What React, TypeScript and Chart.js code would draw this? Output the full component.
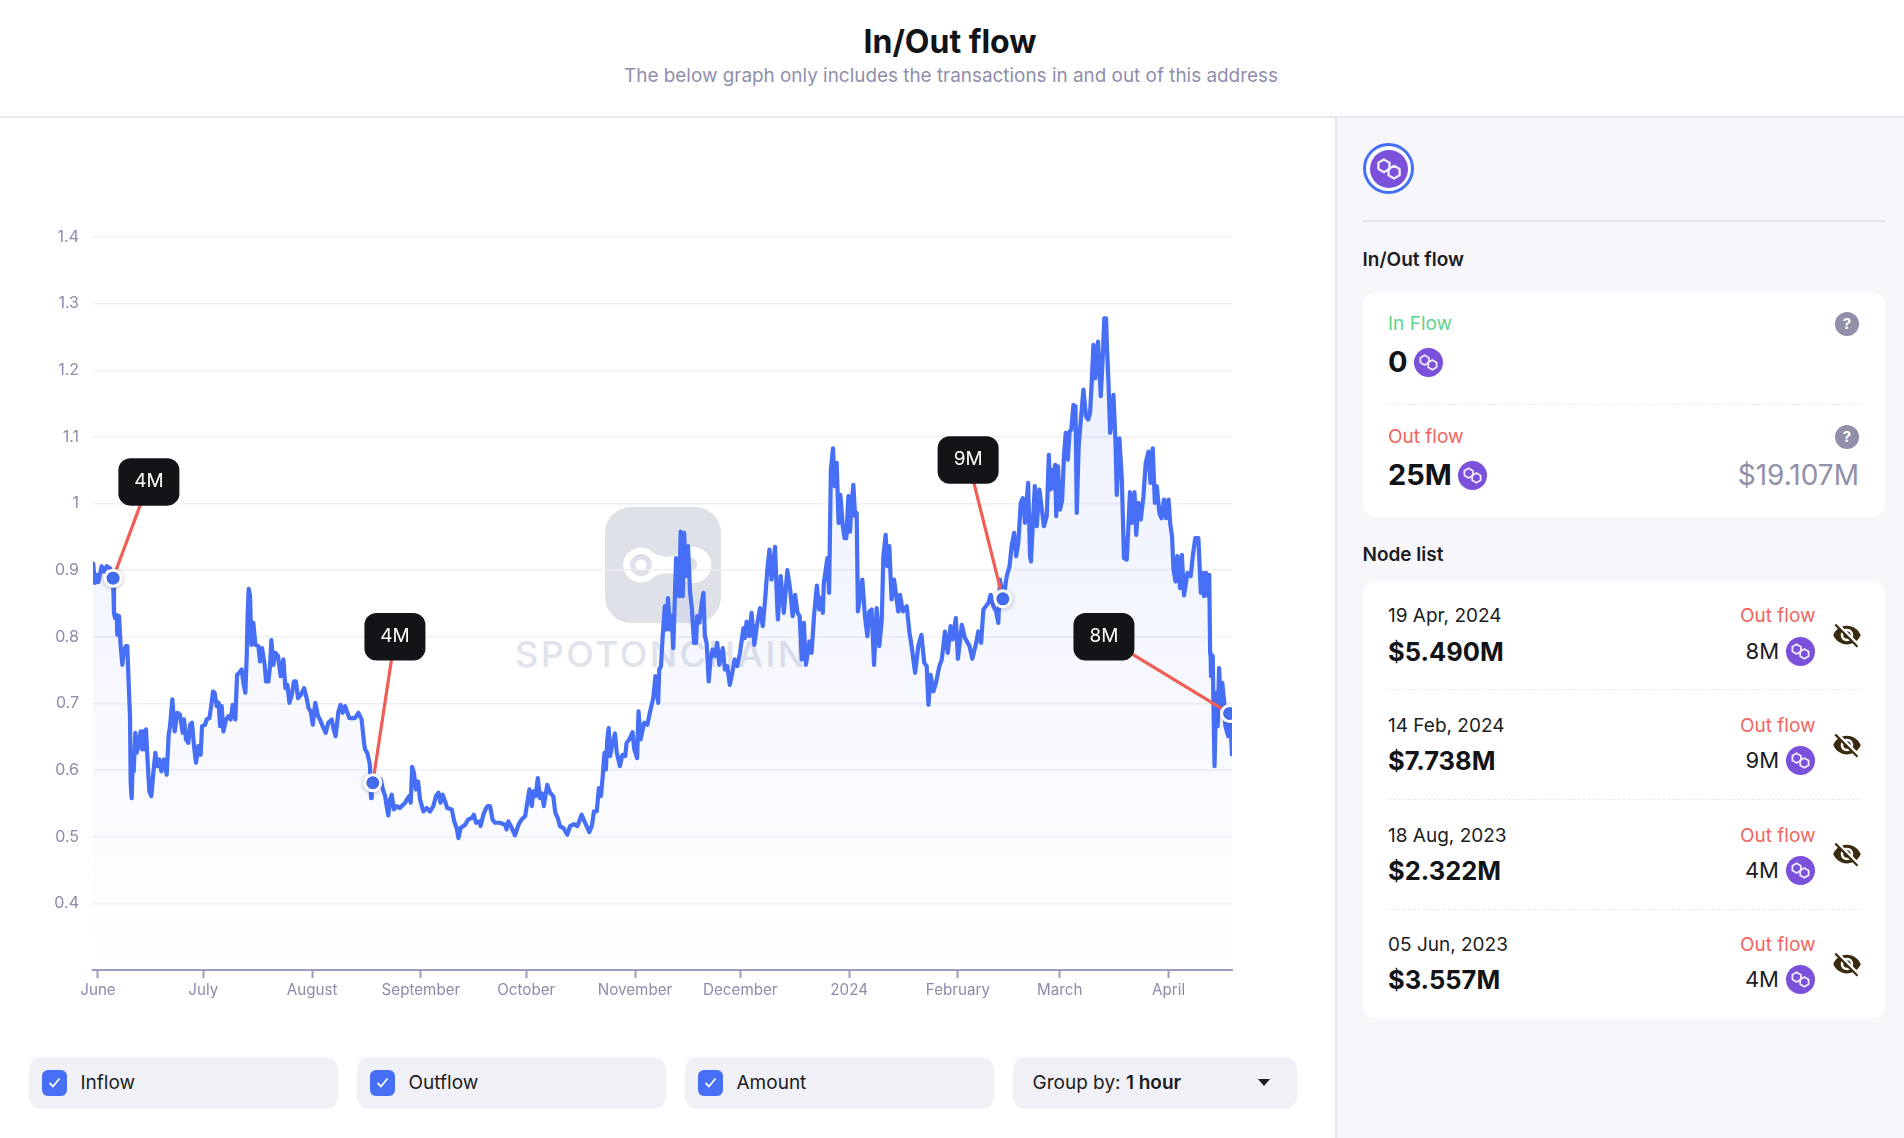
import React, { useEffect, useRef } from "react";
import { Chart, registerables } from "chart.js";

Chart.register(...registerables);

// x = days since 1 June 2023, y = price
const june: number[][] = [[-1.42,.91],[-1.33,.908],[-.86,.881],[-.38,.893],[.1,.882],[1.05,.906],[1.71,.898],[2.47,.906],[3.42,.903],[4.3,.888],[4.56,.836],[4.85,.828],[5.32,.833],[5.51,.803],[5.99,.831],[6.46,.786],[6.94,.758],[7.41,.781],[7.98,.786],[8.36,.786],[8.74,.731],[9.12,.681],[9.31,.581],[9.6,.558],[9.88,.611],[10.17,.598],[10.64,.656],[11.02,.626],[11.59,.641],[12.16,.658],[12.54,.631],[12.92,.658],[13.3,.631],[13.68,.661],[14.06,.621],[14.63,.568],[15.2,.561],[15.77,.596],[16.34,.626],[16.91,.606],[17.48,.616],[18.05,.598],[18.81,.616],[19.57,.593],[20.14,.653],[20.52,.666],[21.19,.706],[21.85,.658],[22.61,.686],[23.37,.683],[24.13,.656],[24.51,.676],[25.08,.646],[25.75,.641],[26.22,.668],[26.79,.671],[27.36,.636],[27.93,.611],[28.6,.636],[29.26,.623]];
const july: number[][] = [[29.64,.666],[30.5,.668],[30.97,.676],[31.73,.678],[32.11,.691],[32.78,.718],[33.25,.716],[33.82,.696],[34.39,.701],[34.77,.666],[35.24,.696],[35.72,.658],[36.48,.676],[37.15,.681],[37.81,.676],[38.38,.698],[39.14,.676],[39.62,.743],[40.28,.746],[40.95,.751],[41.42,.731],[41.99,.716],[42.37,.771],[42.65,.836],[42.94,.872],[43.32,.861],[43.7,.788],[44.27,.821],[44.84,.788],[45.7,.786],[46.17,.763],[46.74,.783],[47.5,.758],[47.88,.733],[48.55,.733],[49.02,.756],[49.4,.795],[49.97,.758],[50.54,.776],[51.3,.771],[52.06,.741],[52.82,.766],[53.39,.723],[53.96,.728],[54.53,.701],[55.2,.713],[55.84,.733],[56.4,.733],[57,.708],[57.8,.713],[58.7,.723],[59.45,.708],[60,.693]];
const august: number[][] = [[60.6,.688],[61.2,.668],[61.9,.701],[62.7,.681],[63.25,.676],[64,.666],[64.9,.656],[65.6,.671],[66.6,.676],[67.05,.663],[67.7,.651],[68.5,.688],[69.1,.698],[69.7,.686],[70.4,.696],[71.6,.678],[73.2,.678],[74.2,.686],[75.1,.676],[75.8,.641],[76.1,.631],[76.7,.626],[77.3,.613],[77.5,.605],[77.8,.558],[78,.591],[78.3,.581],[79.6,.583],[80.5,.586],[81.1,.573],[81.8,.561],[82.25,.546],[82.7,.532],[83.2,.556],[83.7,.563],[84.3,.541],[85.1,.546],[86,.543],[87.5,.551],[88,.556],[88.7,.561],[89.1,.551],[89.5,.605],[90,.596]];
const september: number[][] = [[90.6,.571],[91.2,.583],[91.75,.556],[92.7,.538],[93.65,.543],[94.6,.538],[95.55,.546],[96.3,.561],[97,.566],[97.6,.551],[98.2,.563],[98.9,.553],[99.5,.543],[100.8,.541],[101.5,.523],[102.2,.513],[102.7,.498],[103.3,.513],[104.6,.518],[105.5,.526],[106.5,.528],[107.1,.533],[107.7,.521],[108.7,.523],[109,.516],[109.8,.533],[110.4,.541],[111,.546],[111.7,.546],[112.4,.526],[113.1,.521],[114.5,.521],[116,.518],[116.4,.511],[116.9,.523],[117.9,.513],[118.8,.502],[119.8,.518],[120.7,.526]];
const october: number[][] = [[121.7,.531],[122.3,.551],[122.9,.571],[123.6,.546],[124,.568],[124.7,.561],[125.3,.588],[125.9,.558],[126.5,.565],[127,.546],[128,.578],[128.8,.566],[129.7,.561],[130.3,.536],[131,.528],[131.6,.516],[132.6,.513],[133.7,.503],[134.5,.516],[135.6,.519],[136.6,.516],[137.8,.533],[138.6,.523],[140,.507],[140.7,.516],[141.3,.538],[142.1,.538],[142.7,.573],[143.3,.561],[143.8,.591],[144.3,.626],[144.7,.601],[145.1,.646],[145.5,.663],[145.9,.621],[146.6,.641],[147.3,.655],[147.8,.626],[148.7,.606],[149.4,.623],[150.2,.621],[150.6,.641],[151.4,.646],[152.3,.657]];
const november: number[][] = [[152.8,.631],[153.6,.618],[154,.688],[154.6,.646],[155.6,.671],[156.5,.668],[157.3,.688],[158.2,.708],[158.8,.741],[159.6,.701],[159.9,.751],[160.4,.756],[160.9,.803],[161.5,.846],[162,.811],[162.4,.858],[163,.811],[163.4,.831],[163.9,.783],[164.7,.918],[165,.891],[165.6,.861],[166,.958],[166.6,.861],[167,.956],[167.5,.891],[168.1,.936],[168.7,.866],[169.2,.843],[169.8,.791],[170.4,.791],[170.7,.831],[171.3,.821],[172,.851],[172.5,.866],[172.9,.801],[173.4,.791],[174,.733],[174.5,.766],[175.1,.781],[175.8,.771],[176.4,.791],[177,.758],[178,.783],[178.6,.751],[179.3,.756],[180,.728],[180.7,.746],[181.4,.766],[182.1,.756]];
const december: number[][] = [[182.9,.776],[183.9,.813],[184.3,.798],[184.8,.823],[185.6,.801],[186.2,.836],[187,.788],[187.7,.816],[188.6,.843],[189.4,.816],[190.1,.858],[190.7,.901],[191.3,.931],[191.9,.886],[192.9,.935],[193.4,.861],[193.7,.826],[194.5,.891],[195.4,.836],[196.4,.9],[197.2,.871],[197.9,.831],[198.6,.863],[199.3,.836],[199.9,.831],[200.5,.766],[201.1,.821],[201.7,.758],[202.7,.793],[203.3,.776],[204,.831],[204.8,.877],[205.5,.841],[206,.858],[206.5,.836],[206.8,.881],[207.8,.918],[208.3,.866],[208.8,1.051],[209.4,1.083],[209.9,1.026],[210.45,1.061],[211,.971],[211.5,1.013],[212.2,.966],[212.7,.948],[213.2,.948],[213.8,1.011],[214.25,.958]];
const january: number[][] = [[214.7,1.0],[215.2,1.028],[215.7,.981],[216.15,.986],[216.5,.838],[217.1,.861],[217.75,.886],[218.5,.831],[219.2,.801],[219.75,.838],[220.4,.841],[221.1,.758],[221.85,.843],[222.6,.786],[223.3,.826],[223.75,.921],[224.4,.953],[224.9,.906],[225.45,.936],[226.1,.856],[226.8,.886],[228,.838],[228.5,.863],[229.3,.838],[230.4,.846],[231.2,.806],[231.8,.786],[232.8,.746],[233.7,.786],[234.6,.803],[235.4,.761],[236.1,.756],[236.6,.698],[237.2,.743],[238,.718],[238.75,.731],[239.7,.756],[240.4,.766],[241.3,.808],[242.1,.776],[242.9,.816],[243.5,.796],[244.4,.828]];
const february: number[][] = [[245,.767],[246.1,.818],[247,.798],[248.3,.786],[249.1,.767],[250.2,.791],[250.8,.808],[251.6,.791],[252.25,.841],[253.7,.851],[254.3,.863],[255.1,.846],[255.9,.838],[256.5,.821],[257,.886],[257.8,.857],[258.4,.873],[258.9,.891],[259.7,.906],[260.3,.936],[261,.956],[261.6,.921],[262.2,.941],[262.9,1.001],[263.5,1.008],[264.1,.971],[265,1.031],[265.55,.921],[265.8,.913],[266.3,.966],[266.9,1.026],[267.45,.966],[268.2,1.021],[268.9,.991],[269.5,.966],[270.3,.981],[270.9,1.073],[271.25,1.021],[271.7,1.051],[272.2,1.023],[272.7,1.058],[273,.981],[273.5,1.056]];
const march: number[][] = [[274.1,.991],[274.7,1.006],[275.2,1.071],[275.7,1.106],[276.3,1.066],[276.8,1.108],[277.3,1.111],[277.9,1.148],[278.5,1.146],[278.85,.986],[279.4,1.086],[280.1,1.131],[280.75,1.171],[281.5,1.131],[282.1,1.126],[282.65,1.136],[283.2,1.191],[283.6,1.238],[284.1,1.188],[284.9,1.243],[285.7,1.161],[286.3,1.226],[286.7,1.278],[287.2,1.278],[287.5,1.23],[287.9,1.181],[288.35,1.106],[288.8,1.125],[289.3,1.163],[289.9,1.091],[290.25,1.013],[291,1.098],[291.7,1.036],[292.3,.918],[293.1,.916],[293.7,.981],[294,1.017],[294.5,.971],[295.3,1.017],[295.8,.953],[296.4,1.001],[297.1,.976],[297.85,1.011],[298.5,1.061],[299.3,1.078],[299.85,1.031],[300.5,1.083],[301.1,1.001],[301.65,1.026],[302.4,.986],[303,.978],[303.7,1.006],[304.3,.978]];
const april: number[][] = [[305,1.006],[305.45,.971],[306,.951],[306.4,.901],[307,.883],[307.5,.921],[308.3,.873],[308.8,.923],[309.4,.862],[310.4,.896],[311.3,.891],[311.9,.921],[312.6,.948],[313.5,.948],[314.2,.866],[314.8,.896],[315.1,.861],[315.7,.896],[316.3,.861],[316.6,.893],[316.85,.776],[317,.771],[317.1,.741],[317.6,.771],[317.8,.696],[318.1,.606],[318.6,.716],[319,.666],[319.4,.753],[319.9,.696],[320.3,.731],[320.8,.706],[321.2,.666],[322,.651],[322.4,.685],[322.7,.666],[323.08,.621]];
const pricePoints = [...june, ...july, ...august, ...september, ...october, ...november, ...december, ...january, ...february, ...march, ...april];

const monthDays = [0, 30, 61, 92, 122, 153, 183, 214, 245, 274, 305];
const monthLabels = ["June", "July", "August", "September", "October", "November", "December", "2024", "February", "March", "April"];
const nodeDays = [4.3, 78.3, 257.8, 322.4];
const nodePrices = [0.888, 0.581, 0.857, 0.685];
const nodeAmounts = ["4M", "4M", "9M", "8M"];
const calloutDays = [14.5, 84.6, 247.9, 286.6];
const calloutPrices = [1.0325, 0.8, 1.0655, 0.8];
const nodeRows = [
  ["19 Apr, 2024", "$5.490M", "8M"],
  ["14 Feb, 2024", "$7.738M", "9M"],
  ["18 Aug, 2023", "$2.322M", "4M"],
  ["05 Jun, 2023", "$3.557M", "4M"],
];
const toggleLabels = ["Inflow", "Outflow", "Amount"];

const FONT = "Inter, 'Noto Sans', sans-serif";
const BLUE = "#466ff5";

const calloutPlugin = {
  id: "callouts",
  beforeDatasetDraw(chart: any, args: any) {
    if (args.index === 0) {
      chart.ctx.save();
      chart.ctx.shadowColor = "rgba(40,50,90,0.25)";
      chart.ctx.shadowBlur = 5;
      chart.ctx.shadowOffsetY = 1;
    }
  },
  afterDatasetDraw(chart: any, args: any) {
    if (args.index === 0) chart.ctx.restore();
  },
  afterDatasetsDraw(chart: any) {
    const { ctx, scales } = chart;
    const w = 61, h = 47.5;
    ctx.save();
    nodeAmounts.forEach((t, i) => {
      const cx = scales.x.getPixelForValue(calloutDays[i]);
      const cy = scales.y.getPixelForValue(calloutPrices[i]);
      ctx.beginPath();
      ctx.roundRect(cx - w / 2, cy - h / 2, w, h, 12);
      ctx.fillStyle = "#131417";
      ctx.fill();
      ctx.fillStyle = "#ffffff";
      ctx.font = `400 19px ${FONT}`;
      ctx.textAlign = "center";
      ctx.textBaseline = "middle";
      ctx.fillText(t, cx, cy - 0.5);
    });
    ctx.restore();
  },
};

function PriceChart() {
  const ref = useRef<HTMLCanvasElement>(null);
  useEffect(() => {
    const leaders = nodeDays.map((d, i) => ({
      type: "line" as const,
      data: [{ x: d, y: nodePrices[i] }, { x: calloutDays[i], y: calloutPrices[i] }],
      borderColor: "#ef5f57",
      borderWidth: 3.2,
      pointRadius: 0,
      order: 1,
      clip: false as any,
    }));
    const chart = new Chart(ref.current as HTMLCanvasElement, {
      type: "line",
      data: {
        datasets: [
          {
            data: nodeDays.map((d, i) => ({ x: d, y: nodePrices[i] })),
            showLine: false,
            pointRadius: 8,
            pointBorderWidth: 3,
            pointBackgroundColor: BLUE,
            pointBorderColor: "#ffffff",
            order: 0,
            clip: { left: false, top: false, bottom: false, right: 0 } as any,
          },
          ...leaders,
          {
            data: pricePoints.map(([x, y]) => ({ x, y })),
            borderColor: BLUE,
            borderWidth: 4.2,
            borderJoinStyle: "round",
            pointRadius: 0,
            tension: 0,
            fill: "start",
            order: 2,
            backgroundColor: (c: any) => {
              const a = c.chart.chartArea;
              if (!a) return "rgba(70,110,245,0.06)";
              const g = c.chart.ctx.createLinearGradient(0, a.top + 60, 0, a.bottom);
              g.addColorStop(0, "rgba(70,105,245,0.105)");
              g.addColorStop(1, "rgba(70,105,245,0)");
              return g;
            },
          },
        ],
      },
      options: {
        animation: false,
        responsive: false,
        maintainAspectRatio: false,
        devicePixelRatio: 1,
        layout: { padding: { left: 0, right: 68, top: 57, bottom: 0 } },
        plugins: { legend: { display: false }, tooltip: { enabled: false } },
        scales: {
          x: {
            type: "linear",
            min: -1.42,
            max: 323.08,
            afterFit: (s: any) => { s.height = 70; },
            afterBuildTicks: (s: any) => { s.ticks = monthDays.map((value) => ({ value })); },
            border: { color: "#9c9cbc", width: 2 },
            grid: { drawOnChartArea: false, drawTicks: true, tickLength: 8, tickColor: "#9c9cbc", tickWidth: 2 },
            ticks: {
              autoSkip: false,
              maxRotation: 0,
              padding: 3,
              color: "#8c8bab",
              font: { family: FONT, size: 15.2 },
              callback: (v: any) => monthLabels[monthDays.indexOf(Number(v))] ?? "",
            },
          },
          y: {
            type: "linear",
            min: 0.3,
            max: 1.4,
            afterFit: (s: any) => { s.width = 93; },
            border: { display: false },
            grid: { color: (c: any) => (c.index === 0 ? "rgba(0,0,0,0)" : "#f0f0f4"), lineWidth: 1.5, drawTicks: false },
            ticks: {
              stepSize: 0.1,
              padding: 14,
              color: "#8c8bab",
              font: { family: FONT, size: 16 },
              callback: (v: any) => (Math.abs(v - 0.3) < 1e-6 ? "" : String(Number(Number(v).toFixed(1)))),
            },
          },
        },
      },
      plugins: [calloutPlugin],
    } as any);
    return () => chart.destroy();
  }, []);
  return <canvas ref={ref} width={1300} height={860} style={{ position: "absolute", left: 0, top: 180, width: 1300, height: 860 }} />;
}

const abs = (s: React.CSSProperties): React.CSSProperties => ({ position: "absolute", whiteSpace: "nowrap", ...s });

function PolyIcon({ cx, cy, r }: { cx: number; cy: number; r: number }) {
  const hex = "M-7,-4 L0,-8 L7,-4 L7,4 L0,8 L-7,4 Z";
  return (
    <svg width={r * 2} height={r * 2} viewBox="-30 -30 60 60" style={{ position: "absolute", left: cx - r, top: cy - r }}>
      <circle r="30" fill="#7b50da" />
      <g fill="none" stroke="#ffffff" strokeWidth="3" strokeLinejoin="round" opacity="0.9">
        <path d={hex} transform="translate(-8,-5) scale(1.25)" />
        <path d={hex} transform="translate(8,5) scale(1.25)" />
      </g>
    </svg>
  );
}

function Help({ cx, cy }: { cx: number; cy: number }) {
  return (
    <div style={abs({ left: cx - 12, top: cy - 12, width: 24, height: 24, borderRadius: 12, background: "#9190aa", color: "#fff", font: `700 15px/24px ${FONT}`, textAlign: "center" })}>?</div>
  );
}

function EyeOff({ cx, cy }: { cx: number; cy: number }) {
  return (
    <svg width="30" height="30" viewBox="0 0 24 24" style={{ position: "absolute", left: cx - 15, top: cy - 15 }}>
      <path fill="#3a2a10" d="M12 7c2.76 0 5 2.24 5 5 0 .65-.13 1.26-.36 1.83l2.92 2.92c1.51-1.26 2.7-2.89 3.43-4.75-1.73-4.39-6-7.5-11-7.5-1.4 0-2.74.25-3.98.7l2.16 2.16C10.74 7.13 11.35 7 12 7zM2 4.27l2.28 2.28.46.46C3.08 8.3 1.78 10.02 1 12c1.73 4.39 6 7.5 11 7.5 1.55 0 3.03-.3 4.38-.84l.42.42L19.73 22 21 20.73 3.27 3 2 4.27zM7.53 9.8l1.55 1.55c-.05.21-.08.43-.08.65 0 1.66 1.34 3 3 3 .22 0 .44-.03.65-.08l1.55 1.55c-.67.33-1.41.53-2.2.53-2.76 0-5-2.24-5-5 0-.79.2-1.53.53-2.2zm4.31-.78l3.15 3.15.02-.16c0-1.66-1.34-3-3-3l-.17.01z" />
    </svg>
  );
}

function Text({ x, y, right, size, weight = 400, color = "#1c1c22", children }: any) {
  const base: React.CSSProperties = { top: y - 19, height: 40, lineHeight: "40px", fontFamily: FONT, fontSize: size, fontWeight: weight, color };
  return <div style={abs(right !== undefined ? { ...base, right: 1904 - right } : { ...base, left: x })}>{children}</div>;
}

const Dash = ({ y }: { y: number }) => (
  <div style={abs({ left: 1388, width: 472, top: y, borderTop: "1.5px dashed #e9e9ef" })} />
);

export default function App() {
  const rowDate = [615, 725, 835, 944];
  const rowVal = [651, 760, 870, 979];
  const rowEye = [635, 744.5, 854, 964];
  const rowDash = [689, 798.5, 908.5];
  const toggleX = [[29, 309], [357, 309], [685, 309]];
  return (
    <div style={abs({ left: 0, top: 0, width: 1904, height: 1138, overflow: "hidden", background: "#fff", fontFamily: FONT })}>
      <div style={abs({ left: -2, width: 1904, top: 22, textAlign: "center", font: `700 32px/40px ${FONT}`, color: "#131417" })}>In/Out flow</div>
      <div style={abs({ left: -1, width: 1904, top: 60, textAlign: "center", font: `400 18.9px/32px ${FONT}`, color: "#8f8eac" })}>The below graph only includes the transactions in and out of this address</div>
      <div style={abs({ left: 0, width: 1904, top: 116, height: 2, background: "#e7e7ec" })} />

      {/* watermark behind the plot */}
      <svg width="116" height="116" viewBox="0 0 116 116" style={{ position: "absolute", left: 605, top: 507 }}>
        <rect width="116" height="116" rx="26" fill="#dfe1e8" />
        <path d="M18 58a18 18 0 0 1 31-12c8 5 18 5 26 0a18 18 0 1 1 0 24c-8-5-18-5-26 0a18 18 0 0 1-31-12z" fill="#ffffff" />
        <circle cx="36" cy="58" r="11" fill="#dfe1e8" />
        <circle cx="36" cy="58" r="5.5" fill="#ffffff" />
        <circle cx="84" cy="58" r="8" fill="#dfe1e8" />
      </svg>
      <div style={abs({ left: 515, top: 632, height: 44, font: `500 36px/44px ${FONT}`, letterSpacing: "2.4px", color: "#e1e3ea" })}>SPOTONCHAIN</div>

      <PriceChart />

      {toggleX.map(([x, w], i) => (
        <React.Fragment key={i}>
          <div style={abs({ left: x, top: 1057, width: w, height: 51.5, borderRadius: 12, background: "#f0f1f7" })} />
          <div style={abs({ left: x + 13, top: 1070, width: 25, height: 25.5, borderRadius: 6, background: BLUE })}>
            <svg width="25" height="25" viewBox="0 0 25 25"><path d="M7.5 13l3.5 3.5 6.5-8" fill="none" stroke="#fff" strokeWidth="1.8" /></svg>
          </div>
          <Text x={x + 51.5} y={1082} size={19}>{toggleLabels[i]}</Text>
        </React.Fragment>
      ))}
      <div style={abs({ left: 1012.6, top: 1057, width: 284, height: 51.5, borderRadius: 12, background: "#f0f1f7" })} />
      <Text x={1032.5} y={1082} size={19}>Group by: <b style={{ fontWeight: 600 }}>1 hour</b></Text>
      <svg width="12" height="8" style={{ position: "absolute", left: 1258, top: 1079 }}><path d="M0 0h12L6 7z" fill="#1c1c22" /></svg>

      {/* side panel */}
      <div style={abs({ left: 1335, top: 118, width: 569, height: 1020, background: "#f6f6fb", borderLeft: "2px solid #e6e6ec", boxSizing: "border-box" })} />
      <div style={abs({ left: 1363, top: 143, width: 51, height: 51, borderRadius: 26, border: "3px solid #4570f5", boxSizing: "border-box", background: "#fff" })} />
      <PolyIcon cx={1388.5} cy={168.5} r={19} />
      <div style={abs({ left: 1363, width: 522, top: 220, height: 2, background: "#e3e3e9" })} />
      <Text x={1362.5} y={259} size={19} weight={600}>In/Out flow</Text>

      <div style={abs({ left: 1363, top: 292, width: 522, height: 225, borderRadius: 14, background: "#fff" })} />
      <Text x={1388} y={323} size={19} color="#5fd38d">In Flow</Text>
      <Help cx={1847} cy={324} />
      <Text x={1388} y={361} size={29} weight={700} color="#131417">0</Text>
      <PolyIcon cx={1428} cy={362} r={14.5} />
      <Dash y={403.5} />
      <Text x={1388} y={436} size={19} color="#f1655f">Out flow</Text>
      <Help cx={1847} cy={437} />
      <Text x={1388} y={474} size={29} weight={700} color="#131417">25M</Text>
      <PolyIcon cx={1472} cy={475} r={14.5} />
      <Text right={1859} y={474} size={28} color="#9190aa">$19.107M</Text>

      <Text x={1362.5} y={554} size={19} weight={600}>Node list</Text>
      <div style={abs({ left: 1363, top: 581, width: 522, height: 438, borderRadius: 14, background: "#fff" })} />
      {nodeRows.map(([date, usd, amt], i) => (
        <React.Fragment key={i}>
          <Text x={1388} y={rowDate[i]} size={19}>{date}</Text>
          <Text x={1388} y={rowVal[i]} size={25.5} weight={700} color="#131417">{usd}</Text>
          <Text right={1815.5} y={rowDate[i]} size={19} color="#f1655f">Out flow</Text>
          <Text right={1779} y={rowVal[i] - 1} size={22}>{amt}</Text>
          <PolyIcon cx={1800.5} cy={rowVal[i]} r={14.5} />
          <EyeOff cx={1847} cy={rowEye[i]} />
          {i < 3 && <Dash y={rowDash[i]} />}
        </React.Fragment>
      ))}
    </div>
  );
}
